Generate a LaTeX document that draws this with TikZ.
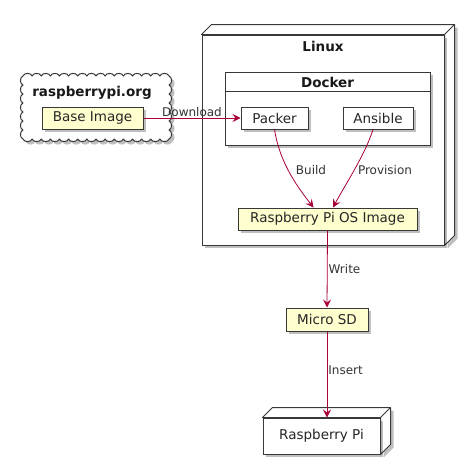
\documentclass[tikz,border=0pt]{standalone}
\usepackage{fontspec}
\setmainfont{DejaVu Sans}
\usetikzlibrary{arrows.meta, calc, shadows, backgrounds}

\definecolor{artyellow}{HTML}{FEFECE}
\definecolor{linkred}{HTML}{A80036}
\definecolor{edgegray}{HTML}{383838}

\begin{document}
\begin{tikzpicture}[x=1pt, y=-1pt,
    softshadow/.style={drop shadow={shadow xshift=3pt, shadow yshift=-3pt, fill=black, opacity=0.25}},
    box/.style={draw=edgegray, line width=1pt, fill=white, softshadow, inner sep=0pt,
      text=black!85, font=\fontsize{13.5}{16}\selectfont},
    artifact/.style={box, fill=artyellow},
    title/.style={text=black!90, font=\bfseries\fontsize{13.5}{16}\selectfont},
    face/.style={draw=edgegray, line width=1pt, fill=white, line join=round},
    link/.style={draw=linkred, line width=0.8pt, -{Stealth[length=8pt, width=8pt, inset=3pt]}},
    linklabel/.style={text=black!80, inner sep=1pt, font=\fontsize{12}{14}\selectfont}]
  \useasboundingbox (0,0) rectangle (476,466);

  % Linux host
  \node[box, minimum width=242pt, minimum height=210pt] (linux) at (323,140) {};
  \begin{scope}[on background layer]
    \filldraw[face, softshadow] (linux.north west) -- ++(10,-10) -- ($(linux.north east)+(10,-10)$)
      -- ($(linux.south east)+(10,-10)$) -- (linux.south east) -- (linux.north east) -- cycle;
  \end{scope}
  \draw[face] (linux.north east) -- ++(10,-10);
  \node[title] (linuxtitle) at (323,46) {Linux};

  % Docker frame
  \node[box, minimum width=205pt, minimum height=73pt] (docker) at (327.5,108.5) {};
  \draw[edgegray, line width=1pt] ($(docker.north west)+(0,20)$) -- ($(docker.north east)+(0,20)$);
  \node[title] (dockertitle) at (327.5,82) {Docker};

  \node[box, minimum width=67pt, minimum height=22pt] (packer) at (274.5,118) {Packer};
  \node[box, minimum width=70pt, minimum height=22pt] (ansible) at (378,118) {Ansible};

  % Artifacts
  \node[artifact, minimum width=179pt, minimum height=22pt] (osimg) at (327.5,219) {Raspberry Pi OS Image};
  \node[artifact, minimum width=82pt, minimum height=23pt] (microsd) at (327,319.5) {Micro SD};

  % Cloud
  \filldraw[face, softshadow] (23,76)
    \foreach \i in {1,...,16} { to[bend left=75] ++(9.125,0) }
    \foreach \i in {1,...,7} { to[bend left=75] ++(0,9) }
    \foreach \i in {1,...,16} { to[bend left=75] ++(-9.125,0) }
    \foreach \i in {1,...,7} { to[bend left=75] ++(0,-9) } -- cycle;
  \node[title] (cloudtitle) at (92,93) {raspberrypi.org};
  \node[artifact, minimum width=101pt, minimum height=22pt] (baseimg) at (92.5,118) {Base Image};

  % Raspberry Pi
  \node[box, minimum width=117pt, minimum height=36pt] (rpi) at (321.5,436) {Raspberry Pi};
  \begin{scope}[on background layer]
    \filldraw[face, softshadow] (rpi.north west) -- ++(10,-10) -- ($(rpi.north east)+(10,-10)$)
      -- ($(rpi.south east)+(10,-10)$) -- (rpi.south east) -- (rpi.north east) -- cycle;
  \end{scope}
  \draw[face] (rpi.north east) -- ++(10,-10);

  % Connections
  \draw[link] (baseimg.east) -- (packer.west) node[linklabel, midway, above] (downloadlbl) {Download};
  \draw[link] (packer.south) .. controls (280,165) and (300,190) .. ($(osimg.north)+(-14,0)$);
  \node[linklabel] (buildlbl) at (311,170) {Build};
  \draw[link] ($(ansible.south)+(-5,0)$) .. controls (365,155) and (345,185) .. ($(osimg.north)+(5.5,0)$);
  \node[linklabel] (provisionlbl) at (385,170) {Provision};
  \draw[link] (osimg.south) -- (microsd.north) node[linklabel, midway, anchor=west] (writelbl) {Write};
  \draw[link] (microsd.south) -- (microsd.south |- rpi.north) node[linklabel, pos=0.45, anchor=west] (insertlbl) {Insert};
\end{tikzpicture}
\end{document}
